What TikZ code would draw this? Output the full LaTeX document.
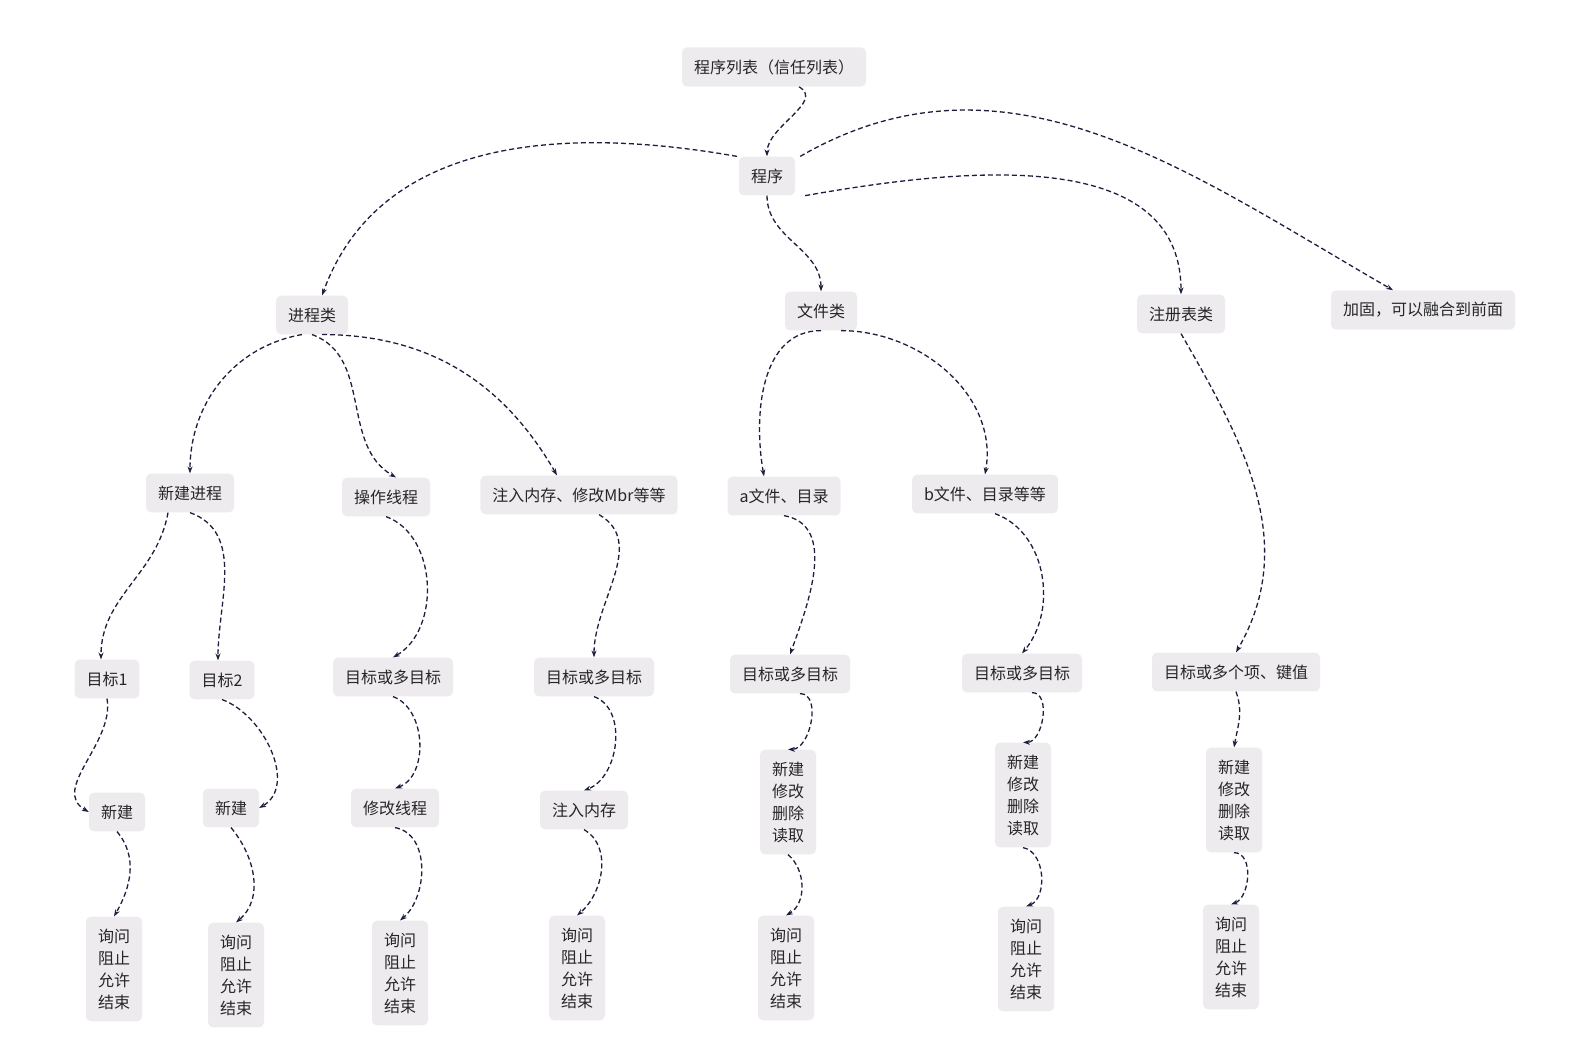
\documentclass[tikz,border=0pt]{standalone}
\usepackage{fontspec}
\newfontfamily\cjk{Noto Sans CJK SC}
\usetikzlibrary{arrows.meta}
\definecolor{bx}{HTML}{EDEBEE}
\definecolor{ln}{HTML}{1E1E3C}
\begin{document}
\begin{tikzpicture}[x=1pt,y=-1pt,
  b/.style={fill=bx,rounded corners=5pt,inner xsep=12pt,inner ysep=12pt,font=\cjk\fontsize{16}{22}\selectfont,text=black!85,align=center},
  e/.style={draw=ln,line width=1.3pt,dash pattern=on 5pt off 3pt,-{Stealth[length=7pt,width=5pt]}}]
\useasboundingbox (0,0) rectangle (1577,1062);
\node[b] (top) at (774,67) {程序列表（信任列表）};
\node[b] (cx) at (767,176) {程序};
\node[b] (jc) at (312,315) {进程类};
\node[b] (wj) at (821,311) {文件类};
\node[b] (zc) at (1181,314) {注册表类};
\node[b] (jg) at (1423,310) {加固，可以融合到前面};
\node[b] (xj) at (190,493) {新建进程};
\node[b] (cz) at (386,497) {操作线程};
\node[b] (zr) at (579,495) {注入内存、修改Mbr等等};
\node[b] (aw) at (784,496) {a文件、目录};
\node[b] (bw) at (985,494) {b文件、目录等等};
\node[b] (m1) at (107,679) {目标1};
\node[b] (m2) at (222,680) {目标2};
\node[b] (m3) at (393,677) {目标或多目标};
\node[b] (m4) at (594,677) {目标或多目标};
\node[b] (m5) at (790,674) {目标或多目标};
\node[b] (m6) at (1022,673) {目标或多目标};
\node[b] (m7) at (1236,672) {目标或多个项、键值};
\node[b] (n1) at (117,812) {新建};
\node[b] (n2) at (231,808) {新建};
\node[b] (n3) at (395,808) {修改线程};
\node[b] (n4) at (584,810) {注入内存};
\node[b] (n5) at (788,802) {新建\\修改\\删除\\读取};
\node[b] (n6) at (1023,795) {新建\\修改\\删除\\读取};
\node[b] (n7) at (1234,800) {新建\\修改\\删除\\读取};
\node[b] (q1) at (114,969) {询问\\阻止\\允许\\结束};
\node[b] (q2) at (236,975) {询问\\阻止\\允许\\结束};
\node[b] (q3) at (400,973) {询问\\阻止\\允许\\结束};
\node[b] (q4) at (577,968) {询问\\阻止\\允许\\结束};
\node[b] (q5) at (786,968) {询问\\阻止\\允许\\结束};
\node[b] (q6) at (1026,959) {询问\\阻止\\允许\\结束};
\node[b] (q7) at (1231,957) {询问\\阻止\\允许\\结束};
\draw[e] ([xshift=25pt]top.south) to[out=-30,in=90] (cx.north);
\draw[e] ([xshift=-30pt]cx.north) to[out=170,in=70] ([xshift=10pt]jc.north);
\draw[e] (cx.south) to[out=-90,in=90] (wj.north);
\draw[e] ([xshift=10pt]cx.south east) to[out=10,in=90] (zc.north);
\draw[e] ([xshift=5pt]cx.north east) to[out=30,in=150] ([xshift=-30pt]jg.north);
\draw[e] ([xshift=-10pt]jc.south) to[out=190,in=90] (xj.north);
\draw[e] (jc.south) to[out=-20,in=150] ([xshift=10pt]cz.north);
\draw[e] ([xshift=10pt]jc.south) to[out=0,in=120] ([xshift=-22pt]zr.north);
\draw[e] (wj.south) to[out=180,in=100] ([xshift=-20pt]aw.north);
\draw[e] ([xshift=20pt]wj.south) to[out=0,in=80] (bw.north);
\draw[e] (zc.south) to[out=-60,in=60] (m7.north);
\draw[e] ([xshift=-22pt]xj.south) to[out=-100,in=90] ([xshift=-6pt]m1.north);
\draw[e] (xj.south) to[out=-20,in=90] ([xshift=-4pt]m2.north);
\draw[e] (cz.south) to[out=-20,in=30] (m3.north);
\draw[e] ([xshift=20pt]zr.south) to[out=-30,in=90] (m4.north);
\draw[e] (aw.south) to[out=-10,in=70] (m5.north);
\draw[e] ([xshift=10pt]bw.south) to[out=-20,in=50] (m6.north);
\draw[e] (m7.south) to[out=-70,in=80] (n7.north);
\draw[e] (m1.south) to[out=-80,in=150] (n1.west);
\draw[e] (m2.south) to[out=-20,in=30] (n2.east);
\draw[e] (m3.south) to[out=-20,in=20] (n3.north);
\draw[e] (m4.south) to[out=-20,in=20] (n4.north);
\draw[e] ([xshift=10pt]m5.south) to[out=0,in=0] (n5.north);
\draw[e] ([xshift=10pt]m6.south) to[out=0,in=0] (n6.north);
\draw[e] (n1.south) to[out=-50,in=60] (q1.north);
\draw[e] (n2.south) to[out=-50,in=40] (q2.north);
\draw[e] (n3.south) to[out=-10,in=40] (q3.north);
\draw[e] (n4.south) to[out=-30,in=40] (q4.north);
\draw[e] (n5.south) to[out=-40,in=30] (q5.north);
\draw[e] (n6.south) to[out=-10,in=20] (q6.north);
\draw[e] (n7.south) to[out=0,in=20] (q7.north);
\end{tikzpicture}
\end{document}
